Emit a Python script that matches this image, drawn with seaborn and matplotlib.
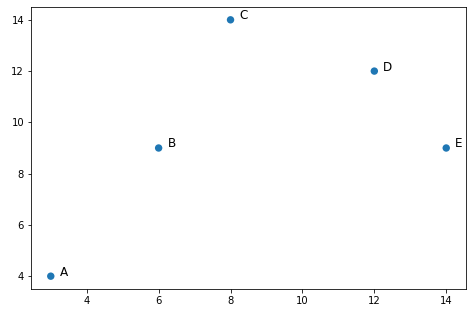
import matplotlib
matplotlib.use("Agg")
import matplotlib.pyplot as plt
import seaborn as sns
import pandas as pd

# data
x_vals = [3, 6, 8, 12, 14]
y_vals = [4, 9, 14, 12, 9]
names = ["A", "B", "C", "D", "E"]

df = pd.DataFrame({"x": x_vals, "y": y_vals, "name": names})

fig = plt.figure(figsize=(474 / 72, 319 / 72), dpi=72)
ax = fig.add_axes([31 / 474, 30 / 319, 435 / 474, 282 / 319])

sns.scatterplot(data=df, x="x", y="y", ax=ax, s=55, color="#1f77b4",
                edgecolor="none")

for _, row in df.iterrows():
    ax.text(row["x"] + 0.25, row["y"] + 0.02, row["name"], fontsize=12)

ax.set_xlabel("")
ax.set_ylabel("")
ax.set_xticks([4, 6, 8, 10, 12, 14])
ax.set_yticks([4, 6, 8, 10, 12, 14])
ax.tick_params(labelsize=10)

fig.savefig("out.png", dpi=72)
